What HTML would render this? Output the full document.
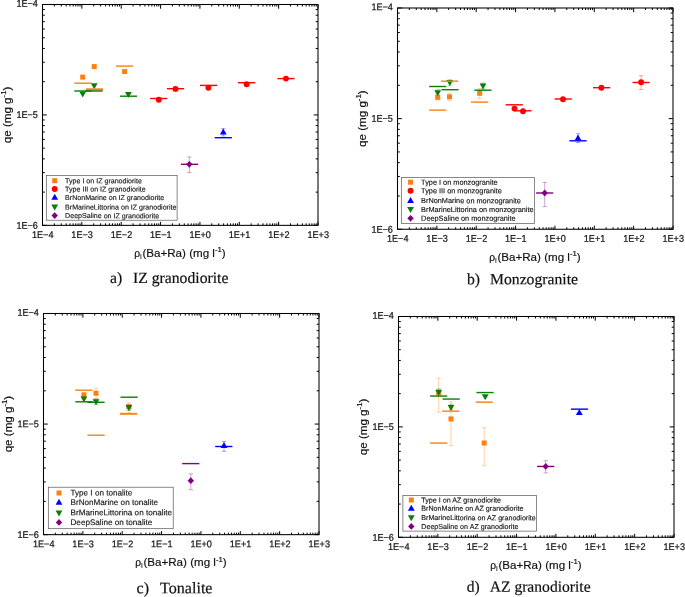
<!DOCTYPE html>
<html lang="en"><head><meta charset="utf-8"><title>Sorption isotherms</title>
<style>
html,body{margin:0;padding:0;background:#fff;}
svg{display:block}
text{font-family:"Liberation Sans",sans-serif;fill:#111}
.tk{font-size:9.75px;stroke:#111;stroke-width:0.22px}
.ax{font-size:11.6px;stroke:#111;stroke-width:0.18px}
.rho{font-size:10.2px}
.sub{font-size:7.8px}
.cap{font-family:"Liberation Serif",serif;fill:#111;stroke:#111;stroke-width:0.2px}
</style></head><body>
<svg width="685" height="597" viewBox="0 0 685 597">
<rect width="685" height="597" fill="#fff"/>
<g id="panel-a">
<rect x="42.5" y="4.5" width="275.50" height="220.85" fill="none" stroke="#000" stroke-width="1.05"/>
<path d="M42.50 225.35v-3.5M42.50 4.5v4.2M54.35 225.35v-2.0M54.35 4.5v2.0M61.28 225.35v-2.0M61.28 4.5v2.0M66.20 225.35v-2.0M66.20 4.5v2.0M70.01 225.35v-2.0M70.01 4.5v2.0M73.13 225.35v-2.0M73.13 4.5v2.0M75.76 225.35v-2.0M75.76 4.5v2.0M78.04 225.35v-2.0M78.04 4.5v2.0M80.06 225.35v-2.0M80.06 4.5v2.0M81.86 225.35v-3.5M81.86 4.5v4.2M93.70 225.35v-2.0M93.70 4.5v2.0M100.64 225.35v-2.0M100.64 4.5v2.0M105.55 225.35v-2.0M105.55 4.5v2.0M109.37 225.35v-2.0M109.37 4.5v2.0M112.48 225.35v-2.0M112.48 4.5v2.0M115.12 225.35v-2.0M115.12 4.5v2.0M117.40 225.35v-2.0M117.40 4.5v2.0M119.41 225.35v-2.0M119.41 4.5v2.0M121.21 225.35v-3.5M121.21 4.5v4.2M133.06 225.35v-2.0M133.06 4.5v2.0M139.99 225.35v-2.0M139.99 4.5v2.0M144.91 225.35v-2.0M144.91 4.5v2.0M148.72 225.35v-2.0M148.72 4.5v2.0M151.84 225.35v-2.0M151.84 4.5v2.0M154.47 225.35v-2.0M154.47 4.5v2.0M156.76 225.35v-2.0M156.76 4.5v2.0M158.77 225.35v-2.0M158.77 4.5v2.0M160.57 225.35v-3.5M160.57 4.5v4.2M172.42 225.35v-2.0M172.42 4.5v2.0M179.35 225.35v-2.0M179.35 4.5v2.0M184.27 225.35v-2.0M184.27 4.5v2.0M188.08 225.35v-2.0M188.08 4.5v2.0M191.20 225.35v-2.0M191.20 4.5v2.0M193.83 225.35v-2.0M193.83 4.5v2.0M196.11 225.35v-2.0M196.11 4.5v2.0M198.13 225.35v-2.0M198.13 4.5v2.0M199.93 225.35v-3.5M199.93 4.5v4.2M211.78 225.35v-2.0M211.78 4.5v2.0M218.71 225.35v-2.0M218.71 4.5v2.0M223.62 225.35v-2.0M223.62 4.5v2.0M227.44 225.35v-2.0M227.44 4.5v2.0M230.55 225.35v-2.0M230.55 4.5v2.0M233.19 225.35v-2.0M233.19 4.5v2.0M235.47 225.35v-2.0M235.47 4.5v2.0M237.48 225.35v-2.0M237.48 4.5v2.0M239.29 225.35v-3.5M239.29 4.5v4.2M251.13 225.35v-2.0M251.13 4.5v2.0M258.06 225.35v-2.0M258.06 4.5v2.0M262.98 225.35v-2.0M262.98 4.5v2.0M266.80 225.35v-2.0M266.80 4.5v2.0M269.91 225.35v-2.0M269.91 4.5v2.0M272.55 225.35v-2.0M272.55 4.5v2.0M274.83 225.35v-2.0M274.83 4.5v2.0M276.84 225.35v-2.0M276.84 4.5v2.0M278.64 225.35v-3.5M278.64 4.5v4.2M290.49 225.35v-2.0M290.49 4.5v2.0M297.42 225.35v-2.0M297.42 4.5v2.0M302.34 225.35v-2.0M302.34 4.5v2.0M306.15 225.35v-2.0M306.15 4.5v2.0M309.27 225.35v-2.0M309.27 4.5v2.0M311.90 225.35v-2.0M311.90 4.5v2.0M314.19 225.35v-2.0M314.19 4.5v2.0M316.20 225.35v-2.0M316.20 4.5v2.0M318.00 225.35v-3.5M318.00 4.5v4.2M42.5 225.35h4.3M318.0 225.35h-4.3M42.5 192.11h2.3M318.0 192.11h-2.3M42.5 172.66h2.3M318.0 172.66h-2.3M42.5 158.87h2.3M318.0 158.87h-2.3M42.5 148.17h2.3M318.0 148.17h-2.3M42.5 139.42h2.3M318.0 139.42h-2.3M42.5 132.03h2.3M318.0 132.03h-2.3M42.5 125.63h2.3M318.0 125.63h-2.3M42.5 119.98h2.3M318.0 119.98h-2.3M42.5 114.92h4.3M318.0 114.92h-4.3M42.5 81.68h2.3M318.0 81.68h-2.3M42.5 62.24h2.3M318.0 62.24h-2.3M42.5 48.44h2.3M318.0 48.44h-2.3M42.5 37.74h2.3M318.0 37.74h-2.3M42.5 29.00h2.3M318.0 29.00h-2.3M42.5 21.61h2.3M318.0 21.61h-2.3M42.5 15.20h2.3M318.0 15.20h-2.3M42.5 9.55h2.3M318.0 9.55h-2.3M42.5 4.50h4.3M318.0 4.50h-4.3" stroke="#000" stroke-width="1" fill="none"/>
<text transform="translate(42.75 237.95) rotate(0.04) scale(0.935 1)" text-anchor="middle" class="tk">1E−4</text>
<text transform="translate(82.11 237.95) rotate(0.04) scale(0.935 1)" text-anchor="middle" class="tk">1E−3</text>
<text transform="translate(121.46 237.95) rotate(0.04) scale(0.935 1)" text-anchor="middle" class="tk">1E−2</text>
<text transform="translate(160.82 237.95) rotate(0.04) scale(0.935 1)" text-anchor="middle" class="tk">1E−1</text>
<text transform="translate(200.18 237.95) rotate(0.04) scale(0.935 1)" text-anchor="middle" class="tk">1E+0</text>
<text transform="translate(239.54 237.95) rotate(0.04) scale(0.935 1)" text-anchor="middle" class="tk">1E+1</text>
<text transform="translate(278.89 237.95) rotate(0.04) scale(0.935 1)" text-anchor="middle" class="tk">1E+2</text>
<text transform="translate(318.25 237.95) rotate(0.04) scale(0.935 1)" text-anchor="middle" class="tk">1E+3</text>
<text transform="translate(37.90 228.80) rotate(0.04) scale(0.935 1)" text-anchor="end" class="tk">1E−6</text>
<text transform="translate(37.90 118.02) rotate(0.04) scale(0.935 1)" text-anchor="end" class="tk">1E−5</text>
<text transform="translate(37.90 6.85) rotate(0.04) scale(0.935 1)" text-anchor="end" class="tk">1E−4</text>
<text x="179.95" y="256.85" text-anchor="middle" class="ax"><tspan class="rho">ρ</tspan><tspan class="sub" dy="2.2" style="font-size:8px;stroke-width:0.05px">i</tspan><tspan dy="-2.2" dx="0.7">(Ba+Ra) (mg l</tspan><tspan class="sub" dy="-4.4">-1</tspan><tspan dy="4.4">)</tspan></text>
<text transform="translate(11.30 114.92) rotate(-90)" text-anchor="middle" class="ax">qe (mg g<tspan class="sub" dy="-5.7">-1</tspan><tspan dy="5.7">)</tspan></text>
<path d="M223.30 128.60V136.00M221.10 128.60H225.50M221.10 136.00H225.50" stroke="#0000ff" stroke-width="0.8" stroke-opacity="0.45" fill="none"/>
<path d="M189.30 157.00V172.60M187.10 157.00H191.50M187.10 172.60H191.50" stroke="#800080" stroke-width="0.8" stroke-opacity="0.45" fill="none"/>
<rect x="80.20" y="74.60" width="5.0" height="5.0" fill="#ff7f0e"/>
<rect x="91.70" y="64.10" width="5.0" height="5.0" fill="#ff7f0e"/>
<rect x="122.10" y="69.10" width="5.0" height="5.0" fill="#ff7f0e"/>
<circle cx="158.80" cy="99.70" r="2.95" fill="#ff0000"/>
<circle cx="175.50" cy="88.90" r="2.95" fill="#ff0000"/>
<circle cx="208.40" cy="87.70" r="2.95" fill="#ff0000"/>
<circle cx="246.60" cy="84.20" r="2.95" fill="#ff0000"/>
<circle cx="286.00" cy="78.60" r="2.95" fill="#ff0000"/>
<path d="M219.90 134.60L226.70 134.60L223.30 128.60Z" fill="#0000ff"/>
<path d="M79.30 91.60L86.10 91.60L82.70 97.60Z" fill="#0a7d0a"/>
<path d="M90.80 83.30L97.60 83.30L94.20 89.30Z" fill="#0a7d0a"/>
<path d="M125.00 92.00L131.80 92.00L128.40 98.00Z" fill="#0a7d0a"/>
<path d="M186.10 164.30L189.30 160.90L192.50 164.30L189.30 167.70Z" fill="#800080"/>
<path d="M74.30 83.20H91.50" stroke="#ff7f0e" stroke-width="1.4" fill="none"/>
<path d="M85.90 89.40H103.10" stroke="#ff7f0e" stroke-width="2.2" fill="none"/>
<path d="M116.00 66.10H133.20" stroke="#ff7f0e" stroke-width="1.4" fill="none"/>
<path d="M74.30 91.00H91.50" stroke="#0a7d0a" stroke-width="1.4" fill="none"/>
<path d="M85.40 91.00H102.60" stroke="#0a7d0a" stroke-width="1.4" fill="none"/>
<path d="M119.90 96.20H137.10" stroke="#0a7d0a" stroke-width="1.4" fill="none"/>
<path d="M150.10 98.50H167.30" stroke="#ff0000" stroke-width="1.4" fill="none"/>
<path d="M166.90 88.70H184.10" stroke="#ff0000" stroke-width="1.4" fill="none"/>
<path d="M200.00 85.40H217.20" stroke="#ff0000" stroke-width="1.4" fill="none"/>
<path d="M238.00 82.70H255.20" stroke="#ff0000" stroke-width="1.4" fill="none"/>
<path d="M277.40 78.60H294.60" stroke="#ff0000" stroke-width="1.4" fill="none"/>
<path d="M214.70 137.70H231.90" stroke="#0000ff" stroke-width="1.4" fill="none"/>
<path d="M180.90 164.30H198.10" stroke="#800080" stroke-width="1.4" fill="none"/>
<rect x="46.3" y="175.5" width="130.8" height="44.7" fill="#fff" stroke="#4a4a4a" stroke-width="0.65"/>
<rect x="52.20" y="178.20" width="5.0" height="5.0" fill="#ff7f0e"/>
<text transform="translate(65.1 183.20) rotate(0.04)" class="lg" font-size="7.09" stroke="#222" stroke-width="0.15">Type I on IZ granodiorite</text>
<circle cx="54.70" cy="189.00" r="2.95" fill="#ff0000"/>
<text transform="translate(65.1 191.50) rotate(0.04)" class="lg" font-size="7.09" stroke="#222" stroke-width="0.15">Type III on IZ granodiorite</text>
<path d="M51.30 199.80L58.10 199.80L54.70 193.80Z" fill="#0000ff"/>
<text transform="translate(65.1 199.90) rotate(0.04)" class="lg" font-size="7.09" stroke="#222" stroke-width="0.15">BrNonMarine on IZ granodiorite</text>
<path d="M51.30 204.50L58.10 204.50L54.70 210.50Z" fill="#0a7d0a"/>
<text transform="translate(65.1 209.40) rotate(0.04)" class="lg" font-size="7.09" stroke="#222" stroke-width="0.15">BrMarineLittorina on IZ granodiorite</text>
<path d="M51.50 215.60L54.70 212.20L57.90 215.60L54.70 219.00Z" fill="#800080"/>
<text transform="translate(65.1 218.10) rotate(0.04)" class="lg" font-size="7.09" stroke="#222" stroke-width="0.15">DeepSaline on IZ granodiorite</text>
<text transform="translate(110 283.0) rotate(0.04)" class="cap" font-size="15.7">a)</text><text transform="translate(133 283.0) rotate(0.04)" class="cap" font-size="15.7">IZ granodiorite</text>
</g>
<g id="panel-b">
<rect x="397.5" y="8.0" width="275.50" height="221.25" fill="none" stroke="#000" stroke-width="1.05"/>
<path d="M397.50 229.25v-3.5M397.50 8.0v4.2M409.35 229.25v-2.0M409.35 8.0v2.0M416.28 229.25v-2.0M416.28 8.0v2.0M421.20 229.25v-2.0M421.20 8.0v2.0M425.01 229.25v-2.0M425.01 8.0v2.0M428.13 229.25v-2.0M428.13 8.0v2.0M430.76 229.25v-2.0M430.76 8.0v2.0M433.04 229.25v-2.0M433.04 8.0v2.0M435.06 229.25v-2.0M435.06 8.0v2.0M436.86 229.25v-3.5M436.86 8.0v4.2M448.70 229.25v-2.0M448.70 8.0v2.0M455.64 229.25v-2.0M455.64 8.0v2.0M460.55 229.25v-2.0M460.55 8.0v2.0M464.37 229.25v-2.0M464.37 8.0v2.0M467.48 229.25v-2.0M467.48 8.0v2.0M470.12 229.25v-2.0M470.12 8.0v2.0M472.40 229.25v-2.0M472.40 8.0v2.0M474.41 229.25v-2.0M474.41 8.0v2.0M476.21 229.25v-3.5M476.21 8.0v4.2M488.06 229.25v-2.0M488.06 8.0v2.0M494.99 229.25v-2.0M494.99 8.0v2.0M499.91 229.25v-2.0M499.91 8.0v2.0M503.72 229.25v-2.0M503.72 8.0v2.0M506.84 229.25v-2.0M506.84 8.0v2.0M509.47 229.25v-2.0M509.47 8.0v2.0M511.76 229.25v-2.0M511.76 8.0v2.0M513.77 229.25v-2.0M513.77 8.0v2.0M515.57 229.25v-3.5M515.57 8.0v4.2M527.42 229.25v-2.0M527.42 8.0v2.0M534.35 229.25v-2.0M534.35 8.0v2.0M539.27 229.25v-2.0M539.27 8.0v2.0M543.08 229.25v-2.0M543.08 8.0v2.0M546.20 229.25v-2.0M546.20 8.0v2.0M548.83 229.25v-2.0M548.83 8.0v2.0M551.11 229.25v-2.0M551.11 8.0v2.0M553.13 229.25v-2.0M553.13 8.0v2.0M554.93 229.25v-3.5M554.93 8.0v4.2M566.78 229.25v-2.0M566.78 8.0v2.0M573.71 229.25v-2.0M573.71 8.0v2.0M578.62 229.25v-2.0M578.62 8.0v2.0M582.44 229.25v-2.0M582.44 8.0v2.0M585.55 229.25v-2.0M585.55 8.0v2.0M588.19 229.25v-2.0M588.19 8.0v2.0M590.47 229.25v-2.0M590.47 8.0v2.0M592.48 229.25v-2.0M592.48 8.0v2.0M594.29 229.25v-3.5M594.29 8.0v4.2M606.13 229.25v-2.0M606.13 8.0v2.0M613.06 229.25v-2.0M613.06 8.0v2.0M617.98 229.25v-2.0M617.98 8.0v2.0M621.80 229.25v-2.0M621.80 8.0v2.0M624.91 229.25v-2.0M624.91 8.0v2.0M627.55 229.25v-2.0M627.55 8.0v2.0M629.83 229.25v-2.0M629.83 8.0v2.0M631.84 229.25v-2.0M631.84 8.0v2.0M633.64 229.25v-3.5M633.64 8.0v4.2M645.49 229.25v-2.0M645.49 8.0v2.0M652.42 229.25v-2.0M652.42 8.0v2.0M657.34 229.25v-2.0M657.34 8.0v2.0M661.15 229.25v-2.0M661.15 8.0v2.0M664.27 229.25v-2.0M664.27 8.0v2.0M666.90 229.25v-2.0M666.90 8.0v2.0M669.19 229.25v-2.0M669.19 8.0v2.0M671.20 229.25v-2.0M671.20 8.0v2.0M673.00 229.25v-3.5M673.00 8.0v4.2M397.5 229.25h4.3M673.0 229.25h-4.3M397.5 195.95h2.3M673.0 195.95h-2.3M397.5 176.47h2.3M673.0 176.47h-2.3M397.5 162.65h2.3M673.0 162.65h-2.3M397.5 151.93h2.3M673.0 151.93h-2.3M397.5 143.17h2.3M673.0 143.17h-2.3M397.5 135.76h2.3M673.0 135.76h-2.3M397.5 129.35h2.3M673.0 129.35h-2.3M397.5 123.69h2.3M673.0 123.69h-2.3M397.5 118.62h4.3M673.0 118.62h-4.3M397.5 85.32h2.3M673.0 85.32h-2.3M397.5 65.84h2.3M673.0 65.84h-2.3M397.5 52.02h2.3M673.0 52.02h-2.3M397.5 41.30h2.3M673.0 41.30h-2.3M397.5 32.54h2.3M673.0 32.54h-2.3M397.5 25.14h2.3M673.0 25.14h-2.3M397.5 18.72h2.3M673.0 18.72h-2.3M397.5 13.06h2.3M673.0 13.06h-2.3M397.5 8.00h4.3M673.0 8.00h-4.3" stroke="#000" stroke-width="1" fill="none"/>
<text transform="translate(397.75 241.85) rotate(0.04) scale(0.935 1)" text-anchor="middle" class="tk">1E−4</text>
<text transform="translate(437.11 241.85) rotate(0.04) scale(0.935 1)" text-anchor="middle" class="tk">1E−3</text>
<text transform="translate(476.46 241.85) rotate(0.04) scale(0.935 1)" text-anchor="middle" class="tk">1E−2</text>
<text transform="translate(515.82 241.85) rotate(0.04) scale(0.935 1)" text-anchor="middle" class="tk">1E−1</text>
<text transform="translate(555.18 241.85) rotate(0.04) scale(0.935 1)" text-anchor="middle" class="tk">1E+0</text>
<text transform="translate(594.54 241.85) rotate(0.04) scale(0.935 1)" text-anchor="middle" class="tk">1E+1</text>
<text transform="translate(633.89 241.85) rotate(0.04) scale(0.935 1)" text-anchor="middle" class="tk">1E+2</text>
<text transform="translate(673.25 241.85) rotate(0.04) scale(0.935 1)" text-anchor="middle" class="tk">1E+3</text>
<text transform="translate(392.90 232.70) rotate(0.04) scale(0.935 1)" text-anchor="end" class="tk">1E−6</text>
<text transform="translate(392.90 121.72) rotate(0.04) scale(0.935 1)" text-anchor="end" class="tk">1E−5</text>
<text transform="translate(392.90 10.35) rotate(0.04) scale(0.935 1)" text-anchor="end" class="tk">1E−4</text>
<text x="534.95" y="260.75" text-anchor="middle" class="ax"><tspan class="rho">ρ</tspan><tspan class="sub" dy="2.2" style="font-size:8px;stroke-width:0.05px">i</tspan><tspan dy="-2.2" dx="0.7">(Ba+Ra) (mg l</tspan><tspan class="sub" dy="-4.4">-1</tspan><tspan dy="4.4">)</tspan></text>
<text transform="translate(366.30 118.62) rotate(-90)" text-anchor="middle" class="ax">qe (mg g<tspan class="sub" dy="-5.7">-1</tspan><tspan dy="5.7">)</tspan></text>
<path d="M437.70 94.80V99.80M435.50 94.80H439.90M435.50 99.80H439.90" stroke="#ff7f0e" stroke-width="0.8" stroke-opacity="0.45" fill="none"/>
<path d="M449.50 93.30V100.80M447.30 93.30H451.70M447.30 100.80H451.70" stroke="#ff7f0e" stroke-width="0.8" stroke-opacity="0.45" fill="none"/>
<path d="M479.70 88.70V98.30M477.50 88.70H481.90M477.50 98.30H481.90" stroke="#ff7f0e" stroke-width="0.8" stroke-opacity="0.45" fill="none"/>
<path d="M641.10 75.70V89.50M638.90 75.70H643.30M638.90 89.50H643.30" stroke="#ff0000" stroke-width="0.8" stroke-opacity="0.45" fill="none"/>
<path d="M578.00 133.70V142.50M575.80 133.70H580.20M575.80 142.50H580.20" stroke="#0000ff" stroke-width="0.8" stroke-opacity="0.45" fill="none"/>
<path d="M544.70 182.50V206.60M542.50 182.50H546.90M542.50 206.60H546.90" stroke="#800080" stroke-width="0.8" stroke-opacity="0.45" fill="none"/>
<path d="M437.70 89.80V95.80M435.50 89.80H439.90M435.50 95.80H439.90" stroke="#0a7d0a" stroke-width="0.8" stroke-opacity="0.45" fill="none"/>
<path d="M449.80 79.80V85.80M447.60 79.80H452.00M447.60 85.80H452.00" stroke="#0a7d0a" stroke-width="0.8" stroke-opacity="0.45" fill="none"/>
<path d="M483.00 83.00V89.00M480.80 83.00H485.20M480.80 89.00H485.20" stroke="#0a7d0a" stroke-width="0.8" stroke-opacity="0.45" fill="none"/>
<rect x="435.20" y="94.80" width="5.0" height="5.0" fill="#ff7f0e"/>
<rect x="447.00" y="94.30" width="5.0" height="5.0" fill="#ff7f0e"/>
<rect x="477.20" y="90.80" width="5.0" height="5.0" fill="#ff7f0e"/>
<circle cx="514.50" cy="108.60" r="2.95" fill="#ff0000"/>
<circle cx="523.00" cy="111.30" r="2.95" fill="#ff0000"/>
<circle cx="563.00" cy="99.30" r="2.95" fill="#ff0000"/>
<circle cx="601.40" cy="87.70" r="2.95" fill="#ff0000"/>
<circle cx="641.10" cy="82.20" r="2.95" fill="#ff0000"/>
<path d="M574.60 140.40L581.40 140.40L578.00 134.40Z" fill="#0000ff"/>
<path d="M434.30 90.20L441.10 90.20L437.70 96.20Z" fill="#0a7d0a"/>
<path d="M446.40 80.10L453.20 80.10L449.80 86.10Z" fill="#0a7d0a"/>
<path d="M479.60 83.40L486.40 83.40L483.00 89.40Z" fill="#0a7d0a"/>
<path d="M541.50 193.00L544.70 189.60L547.90 193.00L544.70 196.40Z" fill="#800080"/>
<path d="M429.10 110.10H446.30" stroke="#ff7f0e" stroke-width="1.4" fill="none"/>
<path d="M440.90 81.20H458.10" stroke="#ff7f0e" stroke-width="1.4" fill="none"/>
<path d="M471.00 102.10H488.20" stroke="#ff7f0e" stroke-width="1.4" fill="none"/>
<path d="M429.10 86.50H446.30" stroke="#0a7d0a" stroke-width="1.4" fill="none"/>
<path d="M441.40 89.70H458.60" stroke="#0a7d0a" stroke-width="1.4" fill="none"/>
<path d="M474.30 90.20H491.50" stroke="#0a7d0a" stroke-width="1.4" fill="none"/>
<path d="M505.60 104.80H522.80" stroke="#ff0000" stroke-width="1.4" fill="none"/>
<path d="M514.40 110.80H531.60" stroke="#ff0000" stroke-width="1.4" fill="none"/>
<path d="M554.60 99.00H571.80" stroke="#ff0000" stroke-width="1.4" fill="none"/>
<path d="M593.00 87.70H610.20" stroke="#ff0000" stroke-width="1.4" fill="none"/>
<path d="M632.50 82.50H649.70" stroke="#ff0000" stroke-width="1.4" fill="none"/>
<path d="M569.40 140.80H586.60" stroke="#0000ff" stroke-width="1.4" fill="none"/>
<path d="M536.10 193.00H553.30" stroke="#800080" stroke-width="1.4" fill="none"/>
<rect x="401.3" y="177.4" width="133.3" height="46.2" fill="#fff" stroke="#4a4a4a" stroke-width="0.65"/>
<rect x="408.05" y="179.70" width="5.0" height="5.0" fill="#ff7f0e"/>
<text transform="translate(421.1 184.70) rotate(0.04)" class="lg" font-size="7.34" stroke="#222" stroke-width="0.15">Type I on monzogranite</text>
<circle cx="410.55" cy="190.80" r="2.95" fill="#ff0000"/>
<text transform="translate(421.1 193.30) rotate(0.04)" class="lg" font-size="7.34" stroke="#222" stroke-width="0.15">Type III on monzogranite</text>
<path d="M407.15 203.00L413.95 203.00L410.55 197.00Z" fill="#0000ff"/>
<text transform="translate(421.1 203.10) rotate(0.04)" class="lg" font-size="7.34" stroke="#222" stroke-width="0.15">BrNonMarine on monzogranite</text>
<path d="M407.15 207.10L413.95 207.10L410.55 213.10Z" fill="#0a7d0a"/>
<text transform="translate(421.1 212.00) rotate(0.04)" class="lg" font-size="7.34" stroke="#222" stroke-width="0.15">BrMarineLittorina on monzogranite</text>
<path d="M407.35 218.30L410.55 214.90L413.75 218.30L410.55 221.70Z" fill="#800080"/>
<text transform="translate(421.1 220.80) rotate(0.04)" class="lg" font-size="7.34" stroke="#222" stroke-width="0.15">DeepSaline on monzogranite</text>
<text transform="translate(467 284.2) rotate(0.04)" class="cap" font-size="15.7">b)</text><text transform="translate(490 284.2) rotate(0.04)" class="cap" font-size="15.7">Monzogranite</text>
</g>
<g id="panel-c">
<rect x="43.5" y="313.5" width="275.50" height="221.15" fill="none" stroke="#000" stroke-width="1.05"/>
<path d="M43.50 534.65v-3.5M43.50 313.5v4.2M55.35 534.65v-2.0M55.35 313.5v2.0M62.28 534.65v-2.0M62.28 313.5v2.0M67.20 534.65v-2.0M67.20 313.5v2.0M71.01 534.65v-2.0M71.01 313.5v2.0M74.13 534.65v-2.0M74.13 313.5v2.0M76.76 534.65v-2.0M76.76 313.5v2.0M79.04 534.65v-2.0M79.04 313.5v2.0M81.06 534.65v-2.0M81.06 313.5v2.0M82.86 534.65v-3.5M82.86 313.5v4.2M94.70 534.65v-2.0M94.70 313.5v2.0M101.64 534.65v-2.0M101.64 313.5v2.0M106.55 534.65v-2.0M106.55 313.5v2.0M110.37 534.65v-2.0M110.37 313.5v2.0M113.48 534.65v-2.0M113.48 313.5v2.0M116.12 534.65v-2.0M116.12 313.5v2.0M118.40 534.65v-2.0M118.40 313.5v2.0M120.41 534.65v-2.0M120.41 313.5v2.0M122.21 534.65v-3.5M122.21 313.5v4.2M134.06 534.65v-2.0M134.06 313.5v2.0M140.99 534.65v-2.0M140.99 313.5v2.0M145.91 534.65v-2.0M145.91 313.5v2.0M149.72 534.65v-2.0M149.72 313.5v2.0M152.84 534.65v-2.0M152.84 313.5v2.0M155.47 534.65v-2.0M155.47 313.5v2.0M157.76 534.65v-2.0M157.76 313.5v2.0M159.77 534.65v-2.0M159.77 313.5v2.0M161.57 534.65v-3.5M161.57 313.5v4.2M173.42 534.65v-2.0M173.42 313.5v2.0M180.35 534.65v-2.0M180.35 313.5v2.0M185.27 534.65v-2.0M185.27 313.5v2.0M189.08 534.65v-2.0M189.08 313.5v2.0M192.20 534.65v-2.0M192.20 313.5v2.0M194.83 534.65v-2.0M194.83 313.5v2.0M197.11 534.65v-2.0M197.11 313.5v2.0M199.13 534.65v-2.0M199.13 313.5v2.0M200.93 534.65v-3.5M200.93 313.5v4.2M212.78 534.65v-2.0M212.78 313.5v2.0M219.71 534.65v-2.0M219.71 313.5v2.0M224.62 534.65v-2.0M224.62 313.5v2.0M228.44 534.65v-2.0M228.44 313.5v2.0M231.55 534.65v-2.0M231.55 313.5v2.0M234.19 534.65v-2.0M234.19 313.5v2.0M236.47 534.65v-2.0M236.47 313.5v2.0M238.48 534.65v-2.0M238.48 313.5v2.0M240.29 534.65v-3.5M240.29 313.5v4.2M252.13 534.65v-2.0M252.13 313.5v2.0M259.06 534.65v-2.0M259.06 313.5v2.0M263.98 534.65v-2.0M263.98 313.5v2.0M267.80 534.65v-2.0M267.80 313.5v2.0M270.91 534.65v-2.0M270.91 313.5v2.0M273.55 534.65v-2.0M273.55 313.5v2.0M275.83 534.65v-2.0M275.83 313.5v2.0M277.84 534.65v-2.0M277.84 313.5v2.0M279.64 534.65v-3.5M279.64 313.5v4.2M291.49 534.65v-2.0M291.49 313.5v2.0M298.42 534.65v-2.0M298.42 313.5v2.0M303.34 534.65v-2.0M303.34 313.5v2.0M307.15 534.65v-2.0M307.15 313.5v2.0M310.27 534.65v-2.0M310.27 313.5v2.0M312.90 534.65v-2.0M312.90 313.5v2.0M315.19 534.65v-2.0M315.19 313.5v2.0M317.20 534.65v-2.0M317.20 313.5v2.0M319.00 534.65v-3.5M319.00 313.5v4.2M43.5 534.65h4.3M319.0 534.65h-4.3M43.5 501.36h2.3M319.0 501.36h-2.3M43.5 481.89h2.3M319.0 481.89h-2.3M43.5 468.08h2.3M319.0 468.08h-2.3M43.5 457.36h2.3M319.0 457.36h-2.3M43.5 448.61h2.3M319.0 448.61h-2.3M43.5 441.20h2.3M319.0 441.20h-2.3M43.5 434.79h2.3M319.0 434.79h-2.3M43.5 429.13h2.3M319.0 429.13h-2.3M43.5 424.07h4.3M319.0 424.07h-4.3M43.5 390.79h2.3M319.0 390.79h-2.3M43.5 371.32h2.3M319.0 371.32h-2.3M43.5 357.50h2.3M319.0 357.50h-2.3M43.5 346.79h2.3M319.0 346.79h-2.3M43.5 338.03h2.3M319.0 338.03h-2.3M43.5 330.63h2.3M319.0 330.63h-2.3M43.5 324.22h2.3M319.0 324.22h-2.3M43.5 318.56h2.3M319.0 318.56h-2.3M43.5 313.50h4.3M319.0 313.50h-4.3" stroke="#000" stroke-width="1" fill="none"/>
<text transform="translate(43.75 547.25) rotate(0.04) scale(0.935 1)" text-anchor="middle" class="tk">1E−4</text>
<text transform="translate(83.11 547.25) rotate(0.04) scale(0.935 1)" text-anchor="middle" class="tk">1E−3</text>
<text transform="translate(122.46 547.25) rotate(0.04) scale(0.935 1)" text-anchor="middle" class="tk">1E−2</text>
<text transform="translate(161.82 547.25) rotate(0.04) scale(0.935 1)" text-anchor="middle" class="tk">1E−1</text>
<text transform="translate(201.18 547.25) rotate(0.04) scale(0.935 1)" text-anchor="middle" class="tk">1E+0</text>
<text transform="translate(240.54 547.25) rotate(0.04) scale(0.935 1)" text-anchor="middle" class="tk">1E+1</text>
<text transform="translate(279.89 547.25) rotate(0.04) scale(0.935 1)" text-anchor="middle" class="tk">1E+2</text>
<text transform="translate(319.25 547.25) rotate(0.04) scale(0.935 1)" text-anchor="middle" class="tk">1E+3</text>
<text transform="translate(38.90 538.10) rotate(0.04) scale(0.935 1)" text-anchor="end" class="tk">1E−6</text>
<text transform="translate(38.90 427.18) rotate(0.04) scale(0.935 1)" text-anchor="end" class="tk">1E−5</text>
<text transform="translate(38.90 315.85) rotate(0.04) scale(0.935 1)" text-anchor="end" class="tk">1E−4</text>
<text x="180.95" y="566.15" text-anchor="middle" class="ax"><tspan class="rho">ρ</tspan><tspan class="sub" dy="2.2" style="font-size:8px;stroke-width:0.05px">i</tspan><tspan dy="-2.2" dx="0.7">(Ba+Ra) (mg l</tspan><tspan class="sub" dy="-4.4">-1</tspan><tspan dy="4.4">)</tspan></text>
<text transform="translate(12.30 424.07) rotate(-90)" text-anchor="middle" class="ax">qe (mg g<tspan class="sub" dy="-5.7">-1</tspan><tspan dy="5.7">)</tspan></text>
<path d="M83.90 392.50V397.50M81.70 392.50H86.10M81.70 397.50H86.10" stroke="#ff7f0e" stroke-width="0.8" stroke-opacity="0.45" fill="none"/>
<path d="M96.00 388.40V398.50M93.80 388.40H98.20M93.80 398.50H98.20" stroke="#ff7f0e" stroke-width="0.8" stroke-opacity="0.45" fill="none"/>
<path d="M128.90 403.00V413.00M126.70 403.00H131.10M126.70 413.00H131.10" stroke="#ff7f0e" stroke-width="0.8" stroke-opacity="0.45" fill="none"/>
<path d="M224.00 441.50V451.40M221.80 441.50H226.20M221.80 451.40H226.20" stroke="#0000ff" stroke-width="0.8" stroke-opacity="0.45" fill="none"/>
<path d="M190.80 473.80V489.70M188.60 473.80H193.00M188.60 489.70H193.00" stroke="#800080" stroke-width="0.8" stroke-opacity="0.45" fill="none"/>
<path d="M83.90 396.50V401.50M81.70 396.50H86.10M81.70 401.50H86.10" stroke="#0a7d0a" stroke-width="0.8" stroke-opacity="0.45" fill="none"/>
<path d="M96.00 399.00V404.50M93.80 399.00H98.20M93.80 404.50H98.20" stroke="#0a7d0a" stroke-width="0.8" stroke-opacity="0.45" fill="none"/>
<path d="M128.90 404.50V410.50M126.70 404.50H131.10M126.70 410.50H131.10" stroke="#0a7d0a" stroke-width="0.8" stroke-opacity="0.45" fill="none"/>
<rect x="81.40" y="392.50" width="5.0" height="5.0" fill="#ff7f0e"/>
<rect x="93.50" y="390.70" width="5.0" height="5.0" fill="#ff7f0e"/>
<rect x="126.40" y="404.30" width="5.0" height="5.0" fill="#ff7f0e"/>
<path d="M220.60 447.90L227.40 447.90L224.00 441.90Z" fill="#0000ff"/>
<path d="M80.50 396.60L87.30 396.60L83.90 402.60Z" fill="#0a7d0a"/>
<path d="M92.60 399.20L99.40 399.20L96.00 405.20Z" fill="#0a7d0a"/>
<path d="M125.50 405.10L132.30 405.10L128.90 411.10Z" fill="#0a7d0a"/>
<path d="M187.60 480.70L190.80 477.30L194.00 480.70L190.80 484.10Z" fill="#800080"/>
<path d="M75.30 390.20H92.50" stroke="#ff7f0e" stroke-width="1.4" fill="none"/>
<path d="M87.40 435.20H104.60" stroke="#ff7f0e" stroke-width="1.4" fill="none"/>
<path d="M119.90 413.80H137.10" stroke="#ff7f0e" stroke-width="1.9" fill="none"/>
<path d="M75.30 401.80H92.50" stroke="#0a7d0a" stroke-width="1.4" fill="none"/>
<path d="M87.40 402.30H104.60" stroke="#0a7d0a" stroke-width="1.4" fill="none"/>
<path d="M120.50 397.20H137.70" stroke="#0a7d0a" stroke-width="1.4" fill="none"/>
<path d="M215.20 446.50H232.40" stroke="#0000ff" stroke-width="1.4" fill="none"/>
<path d="M182.20 463.60H199.40" stroke="#800080" stroke-width="1.4" fill="none"/>
<rect x="48.3" y="487.2" width="124.9" height="41.5" fill="#fff" stroke="#4a4a4a" stroke-width="0.65"/>
<rect x="56.50" y="490.50" width="5.0" height="5.0" fill="#ff7f0e"/>
<text transform="translate(70.5 495.50) rotate(0.04)" class="lg" font-size="8.15" stroke="#222" stroke-width="0.15">Type I on tonalite</text>
<path d="M55.60 504.80L62.40 504.80L59.00 498.80Z" fill="#0000ff"/>
<text transform="translate(70.5 504.90) rotate(0.04)" class="lg" font-size="8.15" stroke="#222" stroke-width="0.15">BrNonMarine on tonalite</text>
<path d="M55.60 510.40L62.40 510.40L59.00 516.40Z" fill="#0a7d0a"/>
<text transform="translate(70.5 515.30) rotate(0.04)" class="lg" font-size="8.15" stroke="#222" stroke-width="0.15">BrMarineLittorina on tonalite</text>
<path d="M55.80 522.40L59.00 519.00L62.20 522.40L59.00 525.80Z" fill="#800080"/>
<text transform="translate(70.5 524.90) rotate(0.04)" class="lg" font-size="8.15" stroke="#222" stroke-width="0.15">DeepSaline on tonalite</text>
<text transform="translate(136.6 593.3) rotate(0.04)" class="cap" font-size="16.1">c)</text><text transform="translate(160.0 593.3) rotate(0.04)" class="cap" font-size="16.1">Tonalite</text>
</g>
<g id="panel-d">
<rect x="398.5" y="316.5" width="275.50" height="220.80" fill="none" stroke="#000" stroke-width="1.05"/>
<path d="M398.50 537.3v-3.5M398.50 316.5v4.2M410.35 537.3v-2.0M410.35 316.5v2.0M417.28 537.3v-2.0M417.28 316.5v2.0M422.20 537.3v-2.0M422.20 316.5v2.0M426.01 537.3v-2.0M426.01 316.5v2.0M429.13 537.3v-2.0M429.13 316.5v2.0M431.76 537.3v-2.0M431.76 316.5v2.0M434.04 537.3v-2.0M434.04 316.5v2.0M436.06 537.3v-2.0M436.06 316.5v2.0M437.86 537.3v-3.5M437.86 316.5v4.2M449.70 537.3v-2.0M449.70 316.5v2.0M456.64 537.3v-2.0M456.64 316.5v2.0M461.55 537.3v-2.0M461.55 316.5v2.0M465.37 537.3v-2.0M465.37 316.5v2.0M468.48 537.3v-2.0M468.48 316.5v2.0M471.12 537.3v-2.0M471.12 316.5v2.0M473.40 537.3v-2.0M473.40 316.5v2.0M475.41 537.3v-2.0M475.41 316.5v2.0M477.21 537.3v-3.5M477.21 316.5v4.2M489.06 537.3v-2.0M489.06 316.5v2.0M495.99 537.3v-2.0M495.99 316.5v2.0M500.91 537.3v-2.0M500.91 316.5v2.0M504.72 537.3v-2.0M504.72 316.5v2.0M507.84 537.3v-2.0M507.84 316.5v2.0M510.47 537.3v-2.0M510.47 316.5v2.0M512.76 537.3v-2.0M512.76 316.5v2.0M514.77 537.3v-2.0M514.77 316.5v2.0M516.57 537.3v-3.5M516.57 316.5v4.2M528.42 537.3v-2.0M528.42 316.5v2.0M535.35 537.3v-2.0M535.35 316.5v2.0M540.27 537.3v-2.0M540.27 316.5v2.0M544.08 537.3v-2.0M544.08 316.5v2.0M547.20 537.3v-2.0M547.20 316.5v2.0M549.83 537.3v-2.0M549.83 316.5v2.0M552.11 537.3v-2.0M552.11 316.5v2.0M554.13 537.3v-2.0M554.13 316.5v2.0M555.93 537.3v-3.5M555.93 316.5v4.2M567.78 537.3v-2.0M567.78 316.5v2.0M574.71 537.3v-2.0M574.71 316.5v2.0M579.62 537.3v-2.0M579.62 316.5v2.0M583.44 537.3v-2.0M583.44 316.5v2.0M586.55 537.3v-2.0M586.55 316.5v2.0M589.19 537.3v-2.0M589.19 316.5v2.0M591.47 537.3v-2.0M591.47 316.5v2.0M593.48 537.3v-2.0M593.48 316.5v2.0M595.29 537.3v-3.5M595.29 316.5v4.2M607.13 537.3v-2.0M607.13 316.5v2.0M614.06 537.3v-2.0M614.06 316.5v2.0M618.98 537.3v-2.0M618.98 316.5v2.0M622.80 537.3v-2.0M622.80 316.5v2.0M625.91 537.3v-2.0M625.91 316.5v2.0M628.55 537.3v-2.0M628.55 316.5v2.0M630.83 537.3v-2.0M630.83 316.5v2.0M632.84 537.3v-2.0M632.84 316.5v2.0M634.64 537.3v-3.5M634.64 316.5v4.2M646.49 537.3v-2.0M646.49 316.5v2.0M653.42 537.3v-2.0M653.42 316.5v2.0M658.34 537.3v-2.0M658.34 316.5v2.0M662.15 537.3v-2.0M662.15 316.5v2.0M665.27 537.3v-2.0M665.27 316.5v2.0M667.90 537.3v-2.0M667.90 316.5v2.0M670.19 537.3v-2.0M670.19 316.5v2.0M672.20 537.3v-2.0M672.20 316.5v2.0M674.00 537.3v-3.5M674.00 316.5v4.2M398.5 537.30h4.3M674.0 537.30h-4.3M398.5 504.07h2.3M674.0 504.07h-2.3M398.5 484.63h2.3M674.0 484.63h-2.3M398.5 470.83h2.3M674.0 470.83h-2.3M398.5 460.13h2.3M674.0 460.13h-2.3M398.5 451.39h2.3M674.0 451.39h-2.3M398.5 444.00h2.3M674.0 444.00h-2.3M398.5 437.60h2.3M674.0 437.60h-2.3M398.5 431.95h2.3M674.0 431.95h-2.3M398.5 426.90h4.3M674.0 426.90h-4.3M398.5 393.67h2.3M674.0 393.67h-2.3M398.5 374.23h2.3M674.0 374.23h-2.3M398.5 360.43h2.3M674.0 360.43h-2.3M398.5 349.73h2.3M674.0 349.73h-2.3M398.5 340.99h2.3M674.0 340.99h-2.3M398.5 333.60h2.3M674.0 333.60h-2.3M398.5 327.20h2.3M674.0 327.20h-2.3M398.5 321.55h2.3M674.0 321.55h-2.3M398.5 316.50h4.3M674.0 316.50h-4.3" stroke="#000" stroke-width="1" fill="none"/>
<text transform="translate(398.75 549.90) rotate(0.04) scale(0.935 1)" text-anchor="middle" class="tk">1E−4</text>
<text transform="translate(438.11 549.90) rotate(0.04) scale(0.935 1)" text-anchor="middle" class="tk">1E−3</text>
<text transform="translate(477.46 549.90) rotate(0.04) scale(0.935 1)" text-anchor="middle" class="tk">1E−2</text>
<text transform="translate(516.82 549.90) rotate(0.04) scale(0.935 1)" text-anchor="middle" class="tk">1E−1</text>
<text transform="translate(556.18 549.90) rotate(0.04) scale(0.935 1)" text-anchor="middle" class="tk">1E+0</text>
<text transform="translate(595.54 549.90) rotate(0.04) scale(0.935 1)" text-anchor="middle" class="tk">1E+1</text>
<text transform="translate(634.89 549.90) rotate(0.04) scale(0.935 1)" text-anchor="middle" class="tk">1E+2</text>
<text transform="translate(674.25 549.90) rotate(0.04) scale(0.935 1)" text-anchor="middle" class="tk">1E+3</text>
<text transform="translate(393.90 540.75) rotate(0.04) scale(0.935 1)" text-anchor="end" class="tk">1E−6</text>
<text transform="translate(393.90 430.00) rotate(0.04) scale(0.935 1)" text-anchor="end" class="tk">1E−5</text>
<text transform="translate(393.90 318.85) rotate(0.04) scale(0.935 1)" text-anchor="end" class="tk">1E−4</text>
<text x="535.95" y="568.80" text-anchor="middle" class="ax"><tspan class="rho">ρ</tspan><tspan class="sub" dy="2.2" style="font-size:8px;stroke-width:0.05px">i</tspan><tspan dy="-2.2" dx="0.7">(Ba+Ra) (mg l</tspan><tspan class="sub" dy="-4.4">-1</tspan><tspan dy="4.4">)</tspan></text>
<text transform="translate(367.30 426.90) rotate(-90)" text-anchor="middle" class="ax">qe (mg g<tspan class="sub" dy="-5.7">-1</tspan><tspan dy="5.7">)</tspan></text>
<path d="M438.70 378.25V412.15M436.50 378.25H440.90M436.50 412.15H440.90" stroke="#ff7f0e" stroke-width="0.8" stroke-opacity="0.45" fill="none"/>
<path d="M451.00 401.85V445.55M448.80 401.85H453.20M448.80 445.55H453.20" stroke="#ff7f0e" stroke-width="0.8" stroke-opacity="0.45" fill="none"/>
<path d="M484.20 427.75V465.65M482.00 427.75H486.40M482.00 465.65H486.40" stroke="#ff7f0e" stroke-width="0.8" stroke-opacity="0.45" fill="none"/>
<path d="M545.70 460.75V472.95M543.50 460.75H547.90M543.50 472.95H547.90" stroke="#800080" stroke-width="0.8" stroke-opacity="0.45" fill="none"/>
<path d="M438.70 388.85V394.85M436.50 388.85H440.90M436.50 394.85H440.90" stroke="#0a7d0a" stroke-width="0.8" stroke-opacity="0.45" fill="none"/>
<path d="M451.00 404.35V409.85M448.80 404.35H453.20M448.80 409.85H453.20" stroke="#0a7d0a" stroke-width="0.8" stroke-opacity="0.45" fill="none"/>
<rect x="436.20" y="390.35" width="5.0" height="5.0" fill="#ff7f0e"/>
<rect x="448.50" y="416.45" width="5.0" height="5.0" fill="#ff7f0e"/>
<rect x="481.70" y="440.55" width="5.0" height="5.0" fill="#ff7f0e"/>
<path d="M575.90 415.05L582.70 415.05L579.30 409.05Z" fill="#0000ff"/>
<path d="M435.30 389.75L442.10 389.75L438.70 395.75Z" fill="#0a7d0a"/>
<path d="M447.60 404.95L454.40 404.95L451.00 410.95Z" fill="#0a7d0a"/>
<path d="M481.80 394.25L488.60 394.25L485.20 400.25Z" fill="#0a7d0a"/>
<path d="M542.50 466.45L545.70 463.05L548.90 466.45L545.70 469.85Z" fill="#800080"/>
<path d="M430.10 443.05H447.30" stroke="#ff7f0e" stroke-width="1.4" fill="none"/>
<path d="M442.20 411.15H459.40" stroke="#ff7f0e" stroke-width="1.4" fill="none"/>
<path d="M475.60 402.15H492.80" stroke="#ff7f0e" stroke-width="1.4" fill="none"/>
<path d="M430.10 396.05H447.30" stroke="#0a7d0a" stroke-width="1.4" fill="none"/>
<path d="M442.60 399.05H459.80" stroke="#0a7d0a" stroke-width="1.4" fill="none"/>
<path d="M476.40 392.55H493.60" stroke="#0a7d0a" stroke-width="1.4" fill="none"/>
<path d="M570.90 409.15H588.10" stroke="#0000ff" stroke-width="1.4" fill="none"/>
<path d="M537.10 466.45H554.30" stroke="#800080" stroke-width="1.4" fill="none"/>
<rect x="402.9" y="495.4" width="133.7" height="35.7" fill="#fff" stroke="#4a4a4a" stroke-width="0.65"/>
<rect x="408.80" y="497.50" width="5.0" height="5.0" fill="#ff7f0e"/>
<text transform="translate(421.3 502.50) rotate(0.04)" class="lg" font-size="7.13" stroke="#222" stroke-width="0.15">Type I on AZ granodiorite</text>
<path d="M407.90 510.70L414.70 510.70L411.30 504.70Z" fill="#0000ff"/>
<text transform="translate(421.3 510.80) rotate(0.04)" class="lg" font-size="7.13" stroke="#222" stroke-width="0.15">BrNonMarine on AZ granodiorite</text>
<path d="M407.90 515.20L414.70 515.20L411.30 521.20Z" fill="#0a7d0a"/>
<text transform="translate(421.3 520.10) rotate(0.04)" class="lg" font-size="7.13" stroke="#222" stroke-width="0.15">BrMarineLittorina on AZ granodiorite</text>
<path d="M408.10 526.40L411.30 523.00L414.50 526.40L411.30 529.80Z" fill="#800080"/>
<text transform="translate(421.3 528.90) rotate(0.04)" class="lg" font-size="7.13" stroke="#222" stroke-width="0.15">DeepSaline on AZ granodiorite</text>
<text transform="translate(466.7 591.8) rotate(0.04)" class="cap" font-size="15.6">d)</text><text transform="translate(489.7 591.8) rotate(0.04)" class="cap" font-size="15.6">AZ granodiorite</text>
</g>
</svg>
</body></html>
